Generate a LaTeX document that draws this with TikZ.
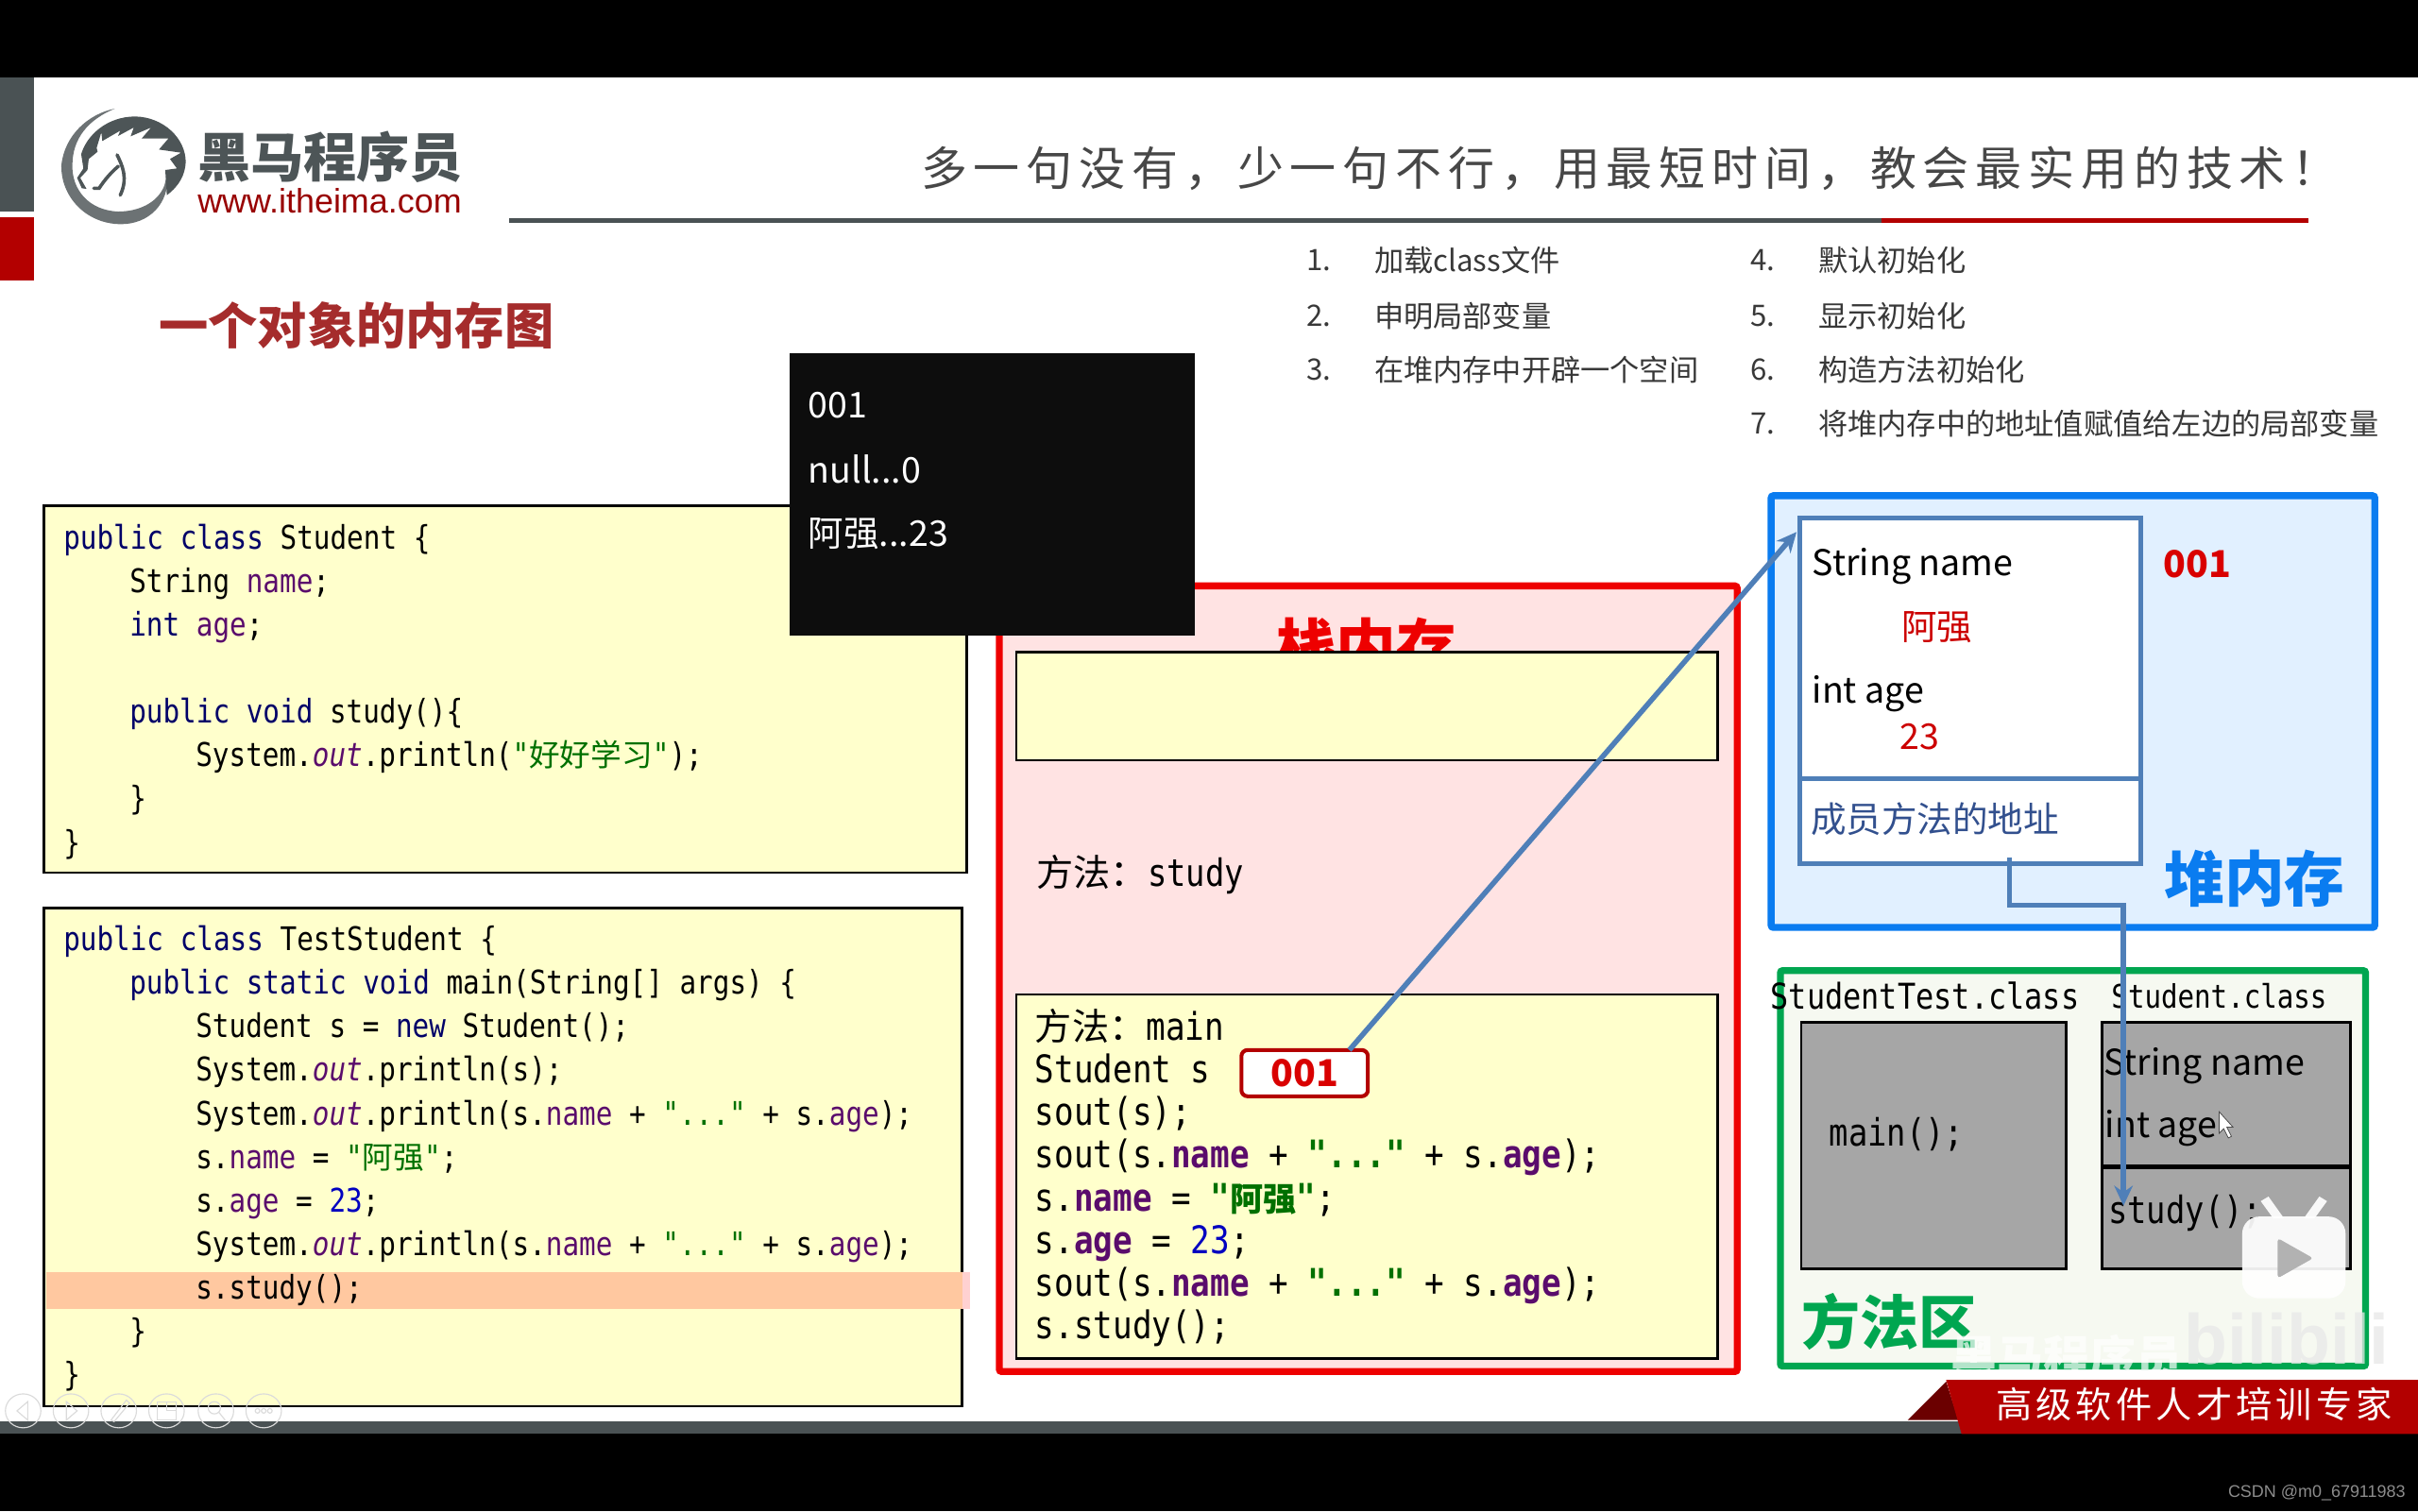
\documentclass[tikz,border=0pt]{standalone}
\usepackage{fontspec}
\usetikzlibrary{arrows.meta}
\setmainfont{Noto Sans}
\newfontfamily\cjkf{Noto Sans CJK SC}
\newfontfamily\spacedf[LetterSpace=14]{Noto Sans CJK SC}
\newfontfamily\bannerf[LetterSpace=11]{Noto Sans CJK SC}
\newfontfamily\code[FakeStretch=0.85]{DejaVu Sans Mono}
\newfontfamily\arialf{Liberation Sans}
\definecolor{paper}{HTML}{FFFFCC}
\definecolor{kwc}{HTML}{000068}
\definecolor{fdc}{HTML}{5A0C6C}
\definecolor{stc}{HTML}{007000}
\definecolor{nmc}{HTML}{0000C0}
\definecolor{slate}{HTML}{4A5254}
\definecolor{brick}{HTML}{B30000}
\definecolor{titlec}{HTML}{A52C2C}
\definecolor{linkc}{HTML}{4F7FB8}
\definecolor{stackc}{HTML}{EE0000}
\definecolor{stackbg}{HTML}{FFE3E3}
\definecolor{heapc}{HTML}{0A7CF0}
\definecolor{heapbg}{HTML}{E1F0FF}
\definecolor{methc}{HTML}{00A650}
\definecolor{methbg}{HTML}{F6F9F1}
\definecolor{logod}{HTML}{4D5557}
\definecolor{logol}{HTML}{6C7274}
\definecolor{hilite}{HTML}{FFC8A0}
\newcommand{\kw}[1]{\textcolor{kwc}{#1}}
\newcommand{\fd}[1]{\textcolor{fdc}{#1}}
\newcommand{\ft}[1]{\textcolor{fdc}{\itshape #1}}
\newcommand{\stx}[1]{\textcolor{stc}{#1}}
\newcommand{\nmb}[1]{\textcolor{nmc}{#1}}
\newcommand{\cj}[2]{{\cjkf\fontsize{#1}{28}\selectfont #2}}
\newcommand{\bfd}[1]{\textcolor{fdc}{\bfseries #1}}
\newcommand{\bx}[6][]{%
  \pgfmathsetmacro\cxx{(#3+#5)/2}\pgfmathsetmacro\cyy{(#4+#6)/2}%
  \node[inner sep=0pt,outer sep=0pt,minimum width={(#5-(#3))*1pt},minimum height={(#6-(#4))*1pt},#1] (#2) at (\cxx,\cyy) {};}
\tikzset{
  x=1pt,y=-1pt,
  codebox/.style={draw=black,line width=1.6pt,fill=paper},
  codetext/.style={anchor=base west,inner sep=0pt,text=black,font=\code\fontsize{21.12}{28.25}\selectfont},
  stacktext/.style={anchor=base west,inner sep=0pt,text=black,font=\code\fontsize{24.7}{27.7}\selectfont},
  monolabel/.style={anchor=west,inner sep=0pt,text=black,font=\code\fontsize{24.4}{28}\selectfont},
  region/.style={rounded corners=1.5pt,line width=4.5pt},
  objbox/.style={draw=linkc,line width=3pt,fill=white},
  graybox/.style={draw=black,line width=1.6pt,fill=black!35},
  sans/.style={anchor=west,inner sep=0pt,font=\cjkf\fontsize{23}{28}\selectfont},
  listtext/.style={anchor=west,inner sep=0pt,text=black!78,font=\cjkf\fontsize{19.12}{24}\selectfont},
  bigtitle/.style={anchor=center,inner sep=0pt,font=\cjkf\bfseries\fontsize{39}{44}\selectfont},
  link/.style={draw=linkc,line width=3.4pt,-{Stealth[length=13pt,width=12pt]}},
  tool/.style={draw=black!14,line width=0.7pt},
}
\begin{document}
\begin{tikzpicture}
\path[use as bounding box,fill=white] (0,0) rectangle (1568,980);
% frame
\fill[black] (0,0) rectangle (1568,50);
\fill[black] (0,930) rectangle (1568,980);
\fill[slate] (0,922) rectangle (1568,930);
\fill[slate] (0,50) rectangle (22,137);
\fill[brick] (0,141) rectangle (22,182);
% logo
\begin{scope}[shift={(30.6,61.25)},scale=0.2042]
\fill[logol] (215,45) .. controls (130,62) and (55,130) .. (45,225) .. controls (42,320) and (120,412) .. (235,412) .. controls (320,412) and (390,350) .. (382,250) -- (372,290) .. controls (350,345) and (290,372) .. (225,372) .. controls (130,368) and (78,300) .. (80,225) .. controls (80,140) and (130,80) .. (215,45) -- cycle;
\fill[logod] (115,235) -- (108,190) .. controls (125,130) and (190,70) .. (280,70) .. controls (370,72) and (440,140) .. (440,215) .. controls (438,255) and (420,290) .. (380,320) -- (375,240) -- (412,235) -- (390,205) -- (425,185) -- (355,175) -- (385,140) -- (300,140) -- (330,105) -- (265,133) -- (275,105) -- (225,132) -- (232,115) -- (175,148) -- (172,120) -- (157,170) -- (160,182) -- (132,205) -- (128,240) -- (105,265) -- (125,300) -- (110,298) -- (95,265) -- cycle;
\draw[logod,line width=2.2pt,line cap=round] (222,192) .. controls (238,225) and (258,265) .. (232,320);
\draw[logod,line width=2.2pt,line cap=round] (226,228) .. controls (200,250) and (180,275) .. (165,298) -- (148,298);
\end{scope}
\node[anchor=west,inner sep=0pt,text=logod,font=\cjkf\bfseries\fontsize{34.4}{38}\selectfont] (brand) at (128,102) {黑马程序员};
\node[anchor=west,inner sep=0pt,text=brick!85!black,font=\arialf\fontsize{22}{24}\selectfont] (site) at (128,130) {www.itheima.com};
% slogan
\node[anchor=west,inner sep=0pt,text=black!72,font=\spacedf\fontsize{30}{34}\selectfont] (slogan) at (597,109) {多一句没有，少一句不行，用最短时间，教会最实用的技术！};
\fill[slate] (330,141.5) rectangle (1220,144.5);
\fill[brick] (1220,141.5) rectangle (1497,144.5);
% title
\node[anchor=west,inner sep=0pt,text=titlec,font=\cjkf\bfseries\fontsize{32}{36}\selectfont] (title) at (103,211) {一个对象的内存图};
% list
\node[listtext] (n1) at (847,169) {1.};
\node[listtext] (n2) at (847,205) {2.};
\node[listtext] (n3) at (847,240) {3.};
\node[listtext] (t1) at (891,169) {加载class文件};
\node[listtext] (t2) at (891,205) {申明局部变量};
\node[listtext] (t3) at (891,240) {在堆内存中开辟一个空间};
\node[listtext] (n4) at (1135,169) {4.};
\node[listtext] (n5) at (1135,205) {5.};
\node[listtext] (n6) at (1135,240) {6.};
\node[listtext] (n7) at (1135,275) {7.};
\node[listtext] (t4) at (1179,169) {默认初始化};
\node[listtext] (t5) at (1179,205) {显示初始化};
\node[listtext] (t6) at (1179,240) {构造方法初始化};
\node[listtext] (t7) at (1179,275) {将堆内存中的地址值赋值给左边的局部变量};
% code 1
\bx[codebox]{codeA}{28.5}{328}{627}{566}
\node[codetext] (codeAt) at (41,356) {\begin{tabular}[t]{@{}l@{}}
\kw{public class} Student \{\\
\hspace*{42.9pt}String \fd{name};\\
\hspace*{42.9pt}\kw{int} \fd{age};\\
~\\
\hspace*{42.9pt}\kw{public void} study()\{\\
\hspace*{85.8pt}System.\ft{out}.println(\stx{"\cj{20}{好好学习}"});\\
\hspace*{42.9pt}\}\\
\}
\end{tabular}};
% code 2
\bx[codebox]{codeB}{28.5}{589}{624}{912}
\fill[hilite] (30,825) rectangle (624,849);
\fill[red!18!white] (624,825) rectangle (629,849);
\node[codetext] (codeBt) at (41,616.5) {\begin{tabular}[t]{@{}l@{}}
\kw{public class} TestStudent \{\\
\hspace*{42.9pt}\kw{public static void} main(String[] args) \{\\
\hspace*{85.8pt}Student s = \kw{new} Student();\\
\hspace*{85.8pt}System.\ft{out}.println(s);\\
\hspace*{85.8pt}System.\ft{out}.println(s.\fd{name} + \stx{"..."} + s.\fd{age});\\
\hspace*{85.8pt}s.\fd{name} = \stx{"\cj{20}{阿强}"};\\
\hspace*{85.8pt}s.\fd{age} = \nmb{23};\\
\hspace*{85.8pt}System.\ft{out}.println(s.\fd{name} + \stx{"..."} + s.\fd{age});\\
\hspace*{85.8pt}s.study();\\
\hspace*{42.9pt}\}\\
\}
\end{tabular}};
% stack
\bx[region,draw=stackc,fill=stackbg]{stack}{648}{380}{1126.5}{889.5}
\node[bigtitle,text=stackc] (stackt) at (886,419) {栈内存};
\bx[codebox]{frameA}{659}{423}{1114}{493}
\node[monolabel] (studyl) at (672,567) {\cj{24}{方法：}study};
\bx[codebox]{frameB}{659}{645}{1114}{881}
\node[stacktext] (stackcode) at (671,674.5) {\begin{tabular}[t]{@{}l@{}}
\cj{24}{方法：}main\\
Student s\\
sout(s);\\
sout(s.\bfd{name} + \stx{\bfseries"..."} + s.\bfd{age});\\
s.\bfd{name} = \stx{\bfseries"\cj{21.5}{\bfseries 阿强}"};\\
s.\bfd{age} = \nmb{23};\\
sout(s.\bfd{name} + \stx{\bfseries"..."} + s.\bfd{age});\\
s.study();
\end{tabular}};
\node[draw=brick,line width=2.5pt,fill=white,rounded corners=4pt,minimum width=82pt,minimum height=30pt,inner sep=0pt,text=red!85!black,font=\cjkf\bfseries\fontsize{24}{26}\selectfont] (addr) at (846,696) {001};
% heap
\bx[region,draw=heapc,fill=heapbg]{heap}{1148.5}{321.5}{1540}{601.5}
\bx[objbox]{obj}{1167}{336}{1388}{505}
\bx[objbox]{objm}{1167}{505}{1388}{560}
\node[sans,text=black] (sname) at (1175,367) {String name};
\node[sans,text=red!80!black] (sval) at (1233,407) {阿强};
\node[sans,text=black] (aname) at (1175,450) {int age};
\node[sans,text=red!80!black] (aval) at (1232,478) {23};
\node[sans,text=linkc!70!black!90!blue] (maddr) at (1174,531) {成员方法的地址};
\node[anchor=west,inner sep=0pt,text=red!85!black,font=\cjkf\bfseries\fontsize{24}{28}\selectfont] (hid) at (1403,366) {001};
\node[bigtitle,text=heapc] (heapt) at (1462,570) {堆内存};
% method area
\bx[region,draw=methc,fill=methbg]{meth}{1154.5}{629.5}{1534}{886}
\node[monolabel,font=\code\fontsize{23}{28}\selectfont] (cl1) at (1148,646) {StudentTest.class};
\node[monolabel,font=\code\fontsize{21}{28}\selectfont] (cl2) at (1369,646) {Student.class};
\bx[graybox]{mainbox}{1168}{663}{1340}{823}
\node[monolabel] (mainl) at (1186,736) {main();};
\bx[graybox]{stubox}{1363}{663}{1524}{823}
\draw[black,line width=3pt] (stubox.west |- 0,757) -- (stubox.east |- 0,757);
\node[sans,text=black] (sn2) at (1364,691) {String name};
\node[sans,text=black] (ia2) at (1365,732) {int age};
\node[monolabel] (stul) at (1367,787) {study();};
\node[bigtitle,anchor=west,text=methc,font=\cjkf\bfseries\fontsize{38}{42}\selectfont] (metht) at (1168,857) {方法区};
% black console
\bx[fill=black!95]{console}{512}{229}{775}{412}
\node[anchor=west,inner sep=0pt,text=white,font=\cjkf\fontsize{23}{26}\selectfont] (c1) at (524,263) {001};
\node[anchor=west,inner sep=0pt,text=white,font=\cjkf\fontsize{23}{26}\selectfont] (c2) at (524,304) {null...0};
\node[anchor=west,inner sep=0pt,text=white,font=\cjkf\fontsize{23}{26}\selectfont] (c3) at (524,346) {阿强...23};
% connectors
\coordinate (a1) at (875,681);
\coordinate (a2) at (1165,345);
\draw[link] (a1) -- (a2);
\coordinate (e1) at (1303,556);
\coordinate (e3) at (1377,587);
\coordinate (e2) at (1377,782);
\draw[link] (e1) |- (e3) -- (e2);
% watermark
\node[anchor=center,inner sep=0pt,text=white,opacity=.7,font=\cjkf\bfseries\fontsize{30}{32}\selectfont] (wm) at (1340,880) {黑马程序员};
\node[anchor=center,inner sep=0pt,text=black!9,opacity=.75,font=\arialf\bfseries\fontsize{46}{48}\selectfont] (bili) at (1483,868) {bilibili};
% banner
\fill[brick!60!black] (1237,921) -- (1262,896) -- (1270,921) -- cycle;
\fill[brick] (1262,895) -- (1568,895) -- (1568,930) -- (1272,930) -- cycle;
\node[anchor=west,inner sep=0pt,text=white,font=\bannerf\fontsize{23.4}{26}\selectfont] (banner) at (1294,911) {高级软件人才培训专家};
% cursor
\filldraw[fill=white,draw=black!70,line width=.5pt] (1439,721) -- (1439,735) -- (1442,732) -- (1445,738) -- (1447,737) -- (1444,731) -- (1448,731) -- cycle;
% play badge
\fill[white,opacity=.92,rounded corners=11pt] (1454,789) rectangle (1521,842);
\fill[white,opacity=.92] (1466,779) -- (1471,776) -- (1481,790) -- (1474,790) -- cycle;
\fill[white,opacity=.92] (1509,779) -- (1504,776) -- (1494,790) -- (1501,790) -- cycle;
\fill[black!30,rounded corners=2pt] (1477,803) -- (1477,829) -- (1500,816) -- cycle;
% slideshow tools
\draw[tool] (15,915) ellipse[x radius=11.5,y radius=11];
\draw[tool] (46,915) ellipse[x radius=11.5,y radius=11];
\draw[tool] (77,915) ellipse[x radius=11.5,y radius=11];
\draw[tool] (108,915) ellipse[x radius=11.5,y radius=11];
\draw[tool] (140,915) ellipse[x radius=11.5,y radius=11];
\draw[tool] (171,915) ellipse[x radius=11.5,y radius=11];
\draw[tool] (18,909) -- (11,915) -- (18,921) -- cycle;
\draw[tool] (43,909) -- (50,915) -- (43,921) -- cycle;
\draw[tool] (72,921) -- (82,908) -- (84,910) -- (74,922) -- cycle;
\draw[tool] (102,909) rectangle (114,921) (108,909) -- (108,915) -- (114,915);
\draw[tool] (139,913) circle[radius=4] (142,916) -- (146,921);
\draw[tool] (167,915) circle[radius=1.5] (171,915) circle[radius=1.5] (175,915) circle[radius=1.5];
% credit
\node[anchor=east,inner sep=0pt,text=black!45,font=\arialf\fontsize{11}{12}\selectfont] (credit) at (1560,968) {CSDN @m0\_67911983};
\end{tikzpicture}
\end{document}
